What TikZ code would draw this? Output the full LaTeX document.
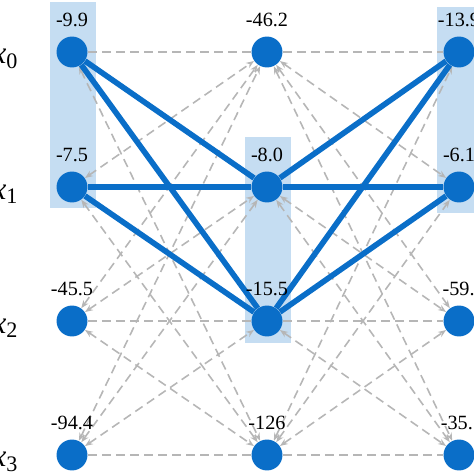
\documentclass[tikz,border=0pt]{standalone}
\usepackage{fontspec}
\setmainfont{Liberation Serif}
\usetikzlibrary{positioning,arrows.meta,backgrounds}
\definecolor{pathblue}{RGB}{10,110,200}
\definecolor{boxblue}{RGB}{197,221,242}
\definecolor{lattgray}{RGB}{182,182,182}

\begin{document}
\begin{tikzpicture}[x=0.02cm,y=-0.02cm,
    state/.style={circle,fill=pathblue,minimum size=17.6pt,inner sep=0pt},
    score/.style={font=\fontsize{11.5}{13}\selectfont,inner sep=1pt},
    statename/.style={font=\fontsize{18}{20}\selectfont,inner sep=0pt},
    trans/.style={lattgray,line width=0.9pt,dash pattern=on 5pt off 3pt,
        {Stealth[length=4.5pt,width=3.5pt]}-{Stealth[length=4.5pt,width=3.5pt]}},
    flat/.style={lattgray,line width=0.9pt,dash pattern=on 5pt off 3pt},
    best/.style={pathblue,line width=3.2pt}]
    \useasboundingbox (0,0) rectangle (474,474);

    % states of the three stages
    \foreach \i/\y in {0/52,1/187,2/321,3/455}{
        \node[state] (L\i) at (72,\y) {};
        \node[state] (M\i) at (267,\y) {};
        \node[state] (R\i) at (459,\y) {};
        \node[statename,left=21.3pt of L\i,yshift=-4pt] (x\i) {\textit{x}\textsubscript{\i}};
    }

    % scores
    \node[score,above=4.4pt of L0] (sL0) {-9.9};
    \node[score,above=4.4pt of L1] (sL1) {-7.5};
    \node[score,above=4.4pt of L2] (sL2) {-45.5};
    \node[score,above=4.4pt of L3] (sL3) {-94.4};
    \node[score,above=4.4pt of M0] (sM0) {-46.2};
    \node[score,above=4.4pt of M1] (sM1) {-8.0};
    \node[score,above=4.4pt of M2] (sM2) {-15.5};
    \node[score,above=4.4pt of M3] (sM3) {-126};
    \node[score,above=4.4pt of R0] (sR0) {-13.9};
    \node[score,above=4.4pt of R1] (sR1) {-6.1};
    \node[score,anchor=south west] (sR2) at ([xshift=-10.5pt,yshift=4.4pt]R2.north) {-59.};
    \node[score,anchor=south west] (sR3) at ([xshift=-11.5pt,yshift=4.4pt]R3.north) {-35.};

    \begin{scope}[on background layer]
        % kept states
        \fill[boxblue] (50,2) rectangle (96,208);
        \fill[boxblue] (245,137) rectangle (291,343);
        \fill[boxblue] (437,7) rectangle (483,213);

        % all transitions
        \foreach \i in {0,...,3}{
            \foreach \j in {0,...,3}{
                \ifnum\i=\j
                    \draw[flat] (L\i) -- (M\j);
                    \draw[flat] (M\i) -- (R\j);
                \else
                    \draw[trans] (L\i) -- (M\j);
                    \draw[trans] (M\i) -- (R\j);
                \fi
            }
        }

        % surviving paths
        \foreach \a in {L0,L1,R0,R1}{
            \draw[best] (\a) -- (M1);
            \draw[best] (\a) -- (M2);
        }
    \end{scope}
\end{tikzpicture}
\end{document}
